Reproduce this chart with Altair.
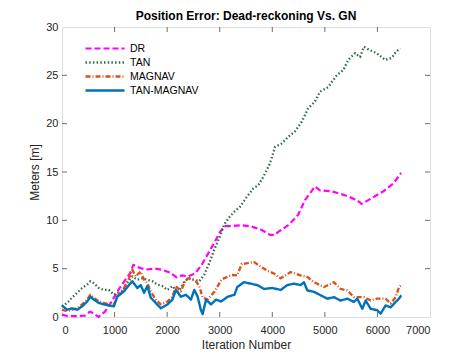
import altair as alt
import pandas as pd

series_names = ["DR", "TAN", "MAGNAV", "TAN-MAGNAV"]
colors = ["#FF00FF", "#2E6B45", "#D95319", "#0072BD"]
dashes = [[6, 3], [1.5, 2.2], [5, 2, 1, 2], [1, 0]]
widths = [2.2, 2.4, 1.0, 3.0]

dr_x = [0, 100, 300, 437, 533, 600, 691, 818, 945, 1072, 1198, 1293, 1357, 1420, 1579, 1769, 1896, 2054, 2181, 2277, 2403, 2530, 2657, 2783, 2910, 3005, 3101, 3228, 3418, 3608, 3799, 3957, 4050, 4115, 4305, 4432, 4495, 4622, 4813, 4908, 5130, 5383, 5606, 5700, 5891, 6112, 6302, 6449]
dr_y = [0.25, 0.1, 0.1, 0.15, 0.55, 0.4, 0.0, 0.55, 1.6, 2.8, 3.8, 4.5, 5.4, 5.2, 4.9, 5.0, 4.9, 4.6, 4.1, 4.3, 4.2, 4.5, 5.4, 6.6, 7.8, 8.8, 9.4, 9.4, 9.5, 9.35, 9.0, 8.5, 8.5, 8.8, 9.5, 10.2, 10.6, 12.1, 13.5, 13.1, 13.0, 12.6, 12.1, 11.7, 12.3, 13.0, 13.8, 14.9]

tan_x = [0, 96, 191, 287, 382, 478, 541, 605, 701, 796, 892, 987, 1051, 1146, 1242, 1338, 1433, 1529, 1624, 1720, 1815, 1911, 2006, 2102, 2197, 2261, 2325, 2420, 2516, 2611, 2707, 2803, 2898, 2994, 3089, 3180, 3260, 3386, 3513, 3640, 3735, 3830, 3957, 4052, 4179, 4305, 4432, 4559, 4685, 4813, 4908, 5066, 5225, 5351, 5446, 5574, 5669, 5745, 5859, 5986, 6144, 6272, 6334, 6430]
tan_y = [1.1, 1.45, 2.0, 2.5, 3.0, 3.35, 3.7, 3.5, 3.0, 2.8, 2.8, 2.3, 2.5, 2.65, 3.5, 4.2, 3.85, 4.0, 3.85, 3.7, 3.35, 3.2, 2.8, 3.2, 2.5, 3.0, 3.7, 4.0, 3.85, 3.7, 4.4, 5.6, 7.0, 8.2, 9.6, 10.3, 10.8, 11.4, 12.4, 13.3, 13.65, 14.5, 15.9, 17.6, 17.95, 18.65, 19.2, 20.2, 21.6, 22.3, 23.3, 23.8, 25.0, 25.55, 26.6, 27.3, 26.9, 27.95, 27.6, 27.3, 26.6, 26.8, 27.3, 27.8]

mag_x = [0, 96, 191, 287, 382, 478, 541, 605, 701, 796, 892, 987, 1051, 1178, 1274, 1338, 1401, 1497, 1561, 1624, 1688, 1783, 1879, 2006, 2102, 2166, 2261, 2325, 2389, 2484, 2548, 2611, 2675, 2770, 2898, 3037, 3228, 3334, 3418, 3461, 3651, 3778, 3905, 4032, 4159, 4349, 4539, 4666, 4793, 4983, 5173, 5300, 5427, 5554, 5744, 5871, 5997, 6156, 6251, 6346, 6410, 6454]
mag_y = [0.75, 0.6, 0.75, 0.9, 1.3, 1.8, 2.3, 2.0, 1.6, 1.45, 1.3, 1.3, 2.1, 3.0, 4.0, 4.9, 4.2, 4.7, 3.85, 3.5, 2.65, 1.8, 1.3, 1.6, 2.1, 3.2, 2.65, 3.5, 4.0, 3.85, 3.7, 3.2, 2.0, 1.8, 2.6, 3.9, 4.35, 4.3, 5.5, 5.5, 5.7, 5.2, 4.8, 4.5, 4.0, 4.65, 4.3, 4.15, 3.6, 3.1, 3.6, 2.9, 2.75, 2.05, 2.05, 1.7, 1.9, 1.9, 1.4, 2.05, 3.1, 3.3]

tm_x = [0, 96, 191, 287, 382, 478, 541, 605, 701, 796, 892, 987, 1051, 1178, 1274, 1338, 1433, 1497, 1561, 1624, 1688, 1783, 1879, 2006, 2102, 2166, 2261, 2357, 2452, 2516, 2580, 2640, 2675, 2740, 2834, 2930, 3025, 3153, 3280, 3334, 3461, 3588, 3715, 3841, 4000, 4159, 4285, 4412, 4539, 4602, 4666, 4793, 4919, 5046, 5173, 5300, 5427, 5554, 5617, 5712, 5776, 5871, 5997, 6061, 6156, 6251, 6346, 6410, 6454]
tm_y = [1.2, 0.75, 0.9, 0.75, 1.1, 1.6, 2.1, 1.8, 1.45, 1.3, 1.2, 1.1, 2.1, 2.65, 3.3, 3.7, 3.0, 3.3, 2.5, 3.2, 2.0, 1.45, 0.9, 1.3, 1.8, 2.8, 2.1, 2.3, 1.8, 2.8, 2.1, 0.75, 0.3, 1.8, 1.3, 1.8, 1.6, 2.1, 2.3, 3.1, 3.6, 3.45, 3.3, 2.9, 3.0, 2.8, 3.3, 3.45, 3.3, 3.6, 2.75, 2.6, 2.25, 1.9, 2.05, 1.7, 1.9, 1.55, 1.9, 0.85, 1.7, 0.85, 0.7, 0.35, 1.2, 1.0, 1.55, 1.9, 2.25]

x_ticks = [0, 1000, 2000, 3000, 4000, 5000, 6000, 7000]
y_ticks = [0, 5, 10, 15, 20, 25, 30]

frames = []
for name, xs_, ys_ in [("DR", dr_x, dr_y), ("TAN", tan_x, tan_y),
                       ("MAGNAV", mag_x, mag_y), ("TAN-MAGNAV", tm_x, tm_y)]:
    frames.append(pd.DataFrame({"iter": xs_, "err": ys_, "series": name}))
df = pd.concat(frames, ignore_index=True)

FONT = "Liberation Sans"
XMAX, YMAX = 7000, 30
W, H = 368, 290
TL = 5  # tick length in px
tx = TL / W * XMAX
ty = TL / H * YMAX

xs = alt.Scale(domain=[0, XMAX], nice=False, zero=False)
ys = alt.Scale(domain=[0, YMAX], nice=False, zero=False)

legend = alt.Legend(
    title=None, orient="none", legendX=35, legendY=13.5,
    symbolType="M-3,0H3", symbolSize=169, labelFont=FONT, labelFontSize=10.5,
    labelColor="black", rowPadding=0, labelOffset=17, padding=0,
)

enc_common = dict(
    x=alt.X("iter:Q", scale=xs,
            axis=alt.Axis(values=x_ticks, format="d", title="Iteration Number", ticks=False,
                          domain=False, grid=False, labelFont=FONT, labelFontSize=11,
                          labelColor="#262626", labelPadding=7, titleFont=FONT,
                          titleFontSize=12, titleFontWeight="normal",
                          titleColor="#262626", titlePadding=4)),
    y=alt.Y("err:Q", scale=ys,
            axis=alt.Axis(values=y_ticks, format="d", title="Meters [m]", ticks=False,
                          domain=False, grid=False, labelFont=FONT, labelFontSize=11,
                          labelColor="#262626", labelPadding=4, titleFont=FONT,
                          titleFontSize=12, titleFontWeight="normal",
                          titleColor="#262626", titlePadding=4)),
    color=alt.Color("series:N", scale=alt.Scale(domain=series_names, range=colors), legend=legend),
    strokeDash=alt.StrokeDash("series:N", scale=alt.Scale(domain=series_names, range=dashes), legend=legend),
    strokeWidth=alt.StrokeWidth("series:N", scale=alt.Scale(domain=series_names, range=widths), legend=legend),
)

layers = []
for name in series_names:
    layers.append(
        alt.Chart(df).transform_filter(alt.datum.series == name)
        .mark_line(strokeCap="butt", strokeJoin="round")
        .encode(**enc_common)
    )

# inward ticks (MATLAB style box ticks)
inner_x = [v for v in x_ticks if 0 < v < XMAX]
inner_y = [v for v in y_ticks if 0 < v < YMAX]
tdf_x = pd.DataFrame({"t": inner_x})
tdf_y = pd.DataFrame({"t": inner_y})
tick_color = "#6e6e6e"
bx1 = alt.Chart(tdf_x).mark_rule(color=tick_color, strokeWidth=1).encode(
    x=alt.X("t:Q", scale=xs), y=alt.datum(0, scale=ys), y2=alt.datum(ty))
bx2 = alt.Chart(tdf_x).mark_rule(color=tick_color, strokeWidth=1).encode(
    x=alt.X("t:Q", scale=xs), y=alt.datum(YMAX - ty, scale=ys), y2=alt.datum(YMAX))
by1 = alt.Chart(tdf_y).mark_rule(color=tick_color, strokeWidth=1).encode(
    y=alt.Y("t:Q", scale=ys), x=alt.datum(0, scale=xs), x2=alt.datum(tx))
by2 = alt.Chart(tdf_y).mark_rule(color=tick_color, strokeWidth=1).encode(
    y=alt.Y("t:Q", scale=ys), x=alt.datum(XMAX - tx, scale=xs), x2=alt.datum(XMAX))

chart = alt.layer(bx1, bx2, by1, by2, *layers).properties(
    width=W, height=H,
    title=alt.TitleParams("Position Error: Dead-reckoning Vs. GN", font=FONT,
                          fontSize=12, fontWeight="bold", color="black",
                          anchor="middle", frame="group", offset=-2),
    autosize=alt.AutoSizeParams(type="none"),
    padding={"left": 54, "top": 19, "right": 30, "bottom": 42},
).configure_view(stroke=tick_color, strokeWidth=1).configure(background="white")

chart.save("out.html", embed_options={"renderer": "svg", "actions": False})
